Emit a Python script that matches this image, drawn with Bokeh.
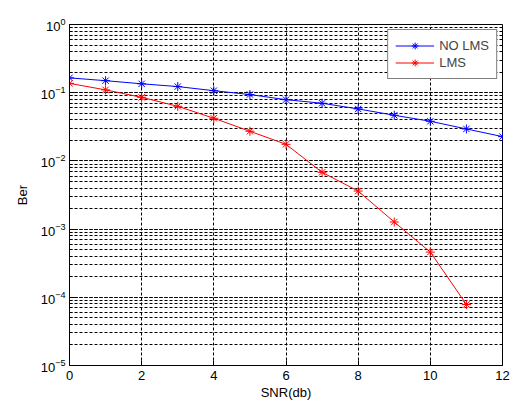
from bokeh.plotting import figure
from bokeh.models import Range1d, FixedTicker, LogTicker, Legend, LegendItem
from bokeh.embed import file_html
from bokeh.resources import INLINE

snr = [0, 1, 2, 3, 4, 5, 6, 7, 8, 9, 10, 11, 12]
ber_no_lms = [0.165, 0.150, 0.135, 0.123, 0.107, 0.094, 0.079, 0.070, 0.0578, 0.0467, 0.0381, 0.0294, 0.0227]
snr_lms = [0, 1, 2, 3, 4, 5, 6, 7, 8, 9, 10, 11]
ber_lms = [0.137, 0.110, 0.0855, 0.0632, 0.0422, 0.0272, 0.0175, 0.0068, 0.00361, 0.00127, 0.00046, 0.0000785]
x_ticks = [0, 2, 4, 6, 8, 10, 12]

FONT = "Liberation Sans"

p = figure(width=527, height=402, y_axis_type="log",
           output_backend="svg", toolbar_location=None,
           x_range=Range1d(0, 12), y_range=Range1d(1e-5, 1),
           min_border_left=69, min_border_right=25,
           min_border_top=24, min_border_bottom=37)
p.background_fill_color = "white"
p.border_fill_color = "white"
p.outline_line_color = "black"
p.outline_line_width = 1

p.xaxis.ticker = FixedTicker(ticks=x_ticks)
p.yaxis.ticker = LogTicker(num_minor_ticks=10)
for ax in (p.xaxis[0], p.yaxis[0]):
    ax.axis_line_color = "black"
    ax.major_tick_line_color = "black"
    ax.major_tick_in = 5
    ax.major_tick_out = 0
    ax.major_label_text_font = FONT
    ax.major_label_text_font_size = "13px"
    ax.major_label_text_color = "black"
    ax.axis_label_text_font = FONT
    ax.axis_label_text_font_size = "13px"
    ax.axis_label_text_font_style = "normal"
    ax.axis_label_text_color = "black"
p.xaxis.minor_tick_line_color = None
p.yaxis.minor_tick_line_color = "black"
p.yaxis.minor_tick_in = 3
p.yaxis.minor_tick_out = 0
p.xaxis.major_label_standoff = 5
p.xaxis.axis_label_standoff = 2
p.yaxis.major_label_standoff = 4
p.yaxis.axis_label_standoff = 8
p.xaxis.axis_label = "SNR(db)"
p.yaxis.axis_label = "Ber"

p.xgrid.ticker = FixedTicker(ticks=x_ticks)
p.xgrid.grid_line_color = "black"
p.xgrid.grid_line_dash = "3 2"
p.ygrid.grid_line_color = "black"
p.ygrid.grid_line_dash = "3 2"
p.ygrid.minor_grid_line_color = "black"
p.ygrid.minor_grid_line_dash = "3 2"

l1 = p.line(snr, ber_no_lms, line_color="blue", line_width=1)
m1 = p.scatter(snr, ber_no_lms, marker="asterisk", size=9, line_color="blue", line_width=1)
l2 = p.line(snr_lms, ber_lms, line_color="red", line_width=1)
m2 = p.scatter(snr_lms, ber_lms, marker="asterisk", size=9, line_color="red", line_width=1)

legend = Legend(items=[LegendItem(label="NO LMS", renderers=[l1, m1]),
                       LegendItem(label="LMS", renderers=[l2, m2])],
                location="top_right")
legend.margin = 5
legend.padding = 7
legend.spacing = 0
legend.glyph_width = 39
legend.glyph_height = 17
legend.label_height = 17
legend.label_standoff = 5
legend.label_text_font = FONT
legend.label_text_font_size = "13px"
legend.border_line_color = "black"
legend.border_line_width = 1
legend.background_fill_color = "white"
legend.background_fill_alpha = 1
p.add_layout(legend)

open("out.html", "w").write(file_html(p, INLINE))
